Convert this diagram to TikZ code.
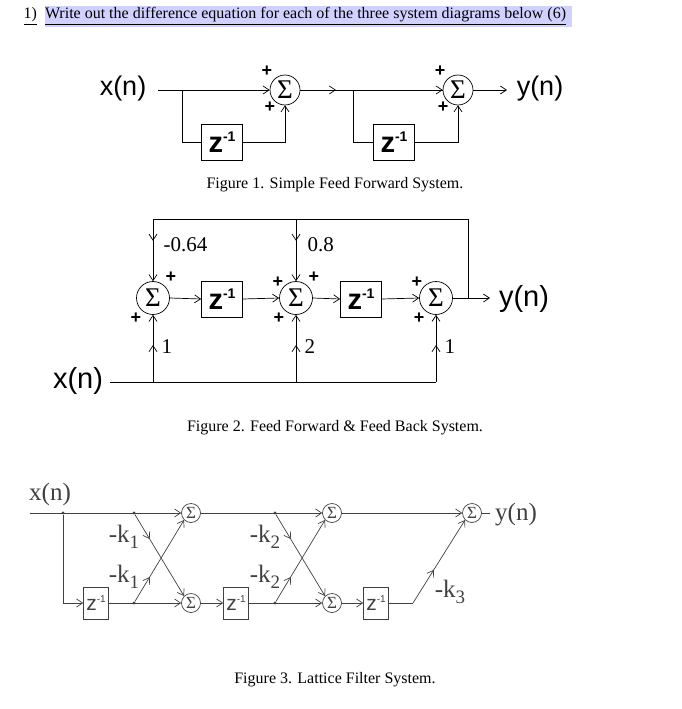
\documentclass[tikz,border=0pt]{standalone}
\usepackage{fontspec}
\setmainfont{Liberation Serif}
\newfontfamily\sans{Liberation Sans}
\usetikzlibrary{arrows.meta,decorations.markings,calc}
\newcommand{\fs}[1]{\fontsize{#1}{#1}\selectfont}
\newcommand{\zinv}[2]{z\raisebox{#2}{\fs{#1}-1}}
\newcommand{\kk}[1]{-k\raisebox{-6pt}{\fs{19}#1}}
\begin{document}
\begin{tikzpicture}[x=1pt,y=-1pt,line width=0.7pt,
  arr/.style={-{Straight Barb[length=6pt,width=8pt]}},
  mid/.style={postaction=decorate,decoration={markings,mark=at position #1 with {\arrow{Straight Barb[length=6pt,width=8pt]}}}},
  sig/.style={circle,draw,minimum size=30pt,inner sep=0pt,font=\fs{27}},
  sigs/.style={circle,draw,minimum size=19pt,inner sep=0pt,font=\fs{17}},
  zb/.style={draw,minimum width=41pt,minimum height=36pt,inner sep=0pt,font=\sans\bfseries\fs{29}},
  zs/.style={draw,minimum width=25pt,minimum height=32pt,inner sep=0pt,font=\sans\fs{21}},
  lab/.style={font=\sans\fs{27}},
  labb/.style={font=\sans\fs{29}},
  pl/.style={font=\sans\bfseries\fs{18}},
  num/.style={font=\fs{21}},
  tl/.style={font=\fs{25}},
  figcap/.style={font=\fs{16}},
  dot/.style={circle,fill,inner sep=1.1pt}]
\useasboundingbox (0,0) rectangle (681,709);
% header
\fill[blue!18] (45,6) rectangle (572,27);
\node[anchor=west,font=\fs{16}] (hd) at (20,16) {\underline{1)}\ \ \underline{Write out the difference equation for each of the three system diagrams below (6)}};
% ---------------- Figure 1
\node[lab] (x1) at (123,89) {x(n)};
\node[sig] (s1) at (285,90) {Σ};
\node[sig] (s2) at (458,90) {Σ};
\node[zb] (z1) at (222,142) {\zinv{14}{11pt}};
\node[zb] (z2) at (394,142) {\zinv{14}{11pt}};
\node[lab] (y1) at (540,89) {y(n)};
\coordinate (b1) at (182,90);
\coordinate (b2) at (353,90);
\draw[arr] (158,90) -- (s1.west);
\draw (b1) |- (z1.west);
\draw[arr] (z1.east) -| (s1.south);
\draw[mid=0.25] (s1.east) -- (s2.west);
\draw[arr] (s1.east) -- (s2.west);
\draw (b2) |- (z2.west);
\draw[arr] (z2.east) -| (s2.south);
\draw[arr] (s2.east) -- (507,90);
\foreach \s in {s1,s2}{
  \node[pl] at ($(\s)+(-18,-19)$) {+};
  \node[pl] at ($(\s)+(-15,17)$) {+};}
\node[figcap] (c1) at (335,185) {Figure 1. Simple Feed Forward System.};
% ---------------- Figure 2
\node[sig,minimum size=33pt] (a) at (153,298) {Σ};
\node[sig,minimum size=33pt] (b) at (296,298) {Σ};
\node[sig,minimum size=33pt] (c) at (436,298) {Σ};
\node[zb] (za) at (222,299) {\zinv{14}{11pt}};
\node[zb] (zb2) at (361,299) {\zinv{14}{11pt}};
\node[labb] (y2) at (524,299) {y(n)};
\node[labb] (x2) at (78,381) {x(n)};
\coordinate (t0) at (468,219);
\coordinate (o2) at (468,298);
\coordinate (xa) at (153,382);
\coordinate (xb) at (296,382);
\coordinate (xc) at (436,382);
\draw (o2) -- (t0) -- (153,219);
\draw[arr,mid=0.35] (153,219) -- (a.north);
\draw[arr,mid=0.35] (296,219) -- (b.north);
\draw[arr] (a.east) -- (za.west);
\draw[arr] (za.east) -- (b.west);
\draw[arr] (b.east) -- (zb2.west);
\draw[arr] (zb2.east) -- (c.west);
\draw[arr] (c.east) -- (490,298);
\draw (110,382) -- (xc);
\draw[arr,mid=0.55] (xa) -- (a.south);
\draw[arr,mid=0.55] (xb) -- (b.south);
\draw[arr,mid=0.55] (xc) -- (c.south);
\node[num,anchor=west] at (160,245) {-0.64};
\node[num,anchor=west] at (304,245) {0.8};
\node[num,anchor=west] at (158,347) {1};
\node[num,anchor=west] at (301,347) {2};
\node[num,anchor=west] at (441,347) {1};
\node[pl] at (171,277) {+};
\node[pl] at (314,277) {+};
\node[pl] at (278,282) {+};
\node[pl] at (417,282) {+};
\foreach \s in {a,b,c} \node[pl] at ($(\s)+(-17,20)$) {+};
\node[figcap] (c2) at (335,428) {Figure 2. Feed Forward \& Feed Back System.};
% ---------------- Figure 3
\begin{scope}[black!75]
\node[tl] (x3) at (50,494) {x(n)};
\node[sigs] (p1) at (191,513) {Σ};
\node[sigs] (q1) at (191,603) {Σ};
\node[sigs] (p2) at (332,513) {Σ};
\node[sigs] (q2) at (332,603) {Σ};
\node[sigs] (p3) at (472,513) {Σ};
\node[zs] (w1) at (96,603) {\zinv{10}{8pt}};
\node[zs] (w2) at (236,603) {\zinv{10}{8pt}};
\node[zs] (w3) at (376,603) {\zinv{10}{8pt}};
\node[tl] (y3) at (516,515) {y(n)};
\node[dot] (d0) at (63,513) {};
\node[dot] (d1) at (134,513) {};
\node[dot] (e1) at (134,603) {};
\node[dot] (d2) at (275,513) {};
\node[dot] (e2) at (275,603) {};
\coordinate (f3) at (413,603);
\draw[arr] (30,513) -- (p1.west);
\draw[arr] (d0) |- (w1.west);
\draw[arr] (w1.east) -- (q1.west);
\draw[arr,mid=0.3] (d1) -- (q1.north west);
\draw[arr,mid=0.3] (e1) -- (p1.south west);
\draw[arr] (p1.east) -- (p2.west);
\draw[arr] (q1.east) -- (w2.west);
\draw[arr] (w2.east) -- (q2.west);
\draw[arr,mid=0.3] (d2) -- (q2.north west);
\draw[arr,mid=0.3] (e2) -- (p2.south west);
\draw[arr] (p2.east) -- (p3.west);
\draw[arr] (q2.east) -- (w3.west);
\draw (w3.east) -- (f3);
\draw[arr,mid=0.4] (f3) -- (p3.south west);
\draw (p3.east) -- (490,513);
\node[tl] at (124,537) {\kk{1}};
\node[tl] at (124,577) {\kk{1}};
\node[tl] at (265,537) {\kk{2}};
\node[tl] at (265,577) {\kk{2}};
\node[tl] at (450,592) {\kk{3}};
\end{scope}
\node[figcap] (c3) at (335,680) {Figure 3. Lattice Filter System.};
\end{tikzpicture}
\end{document}
